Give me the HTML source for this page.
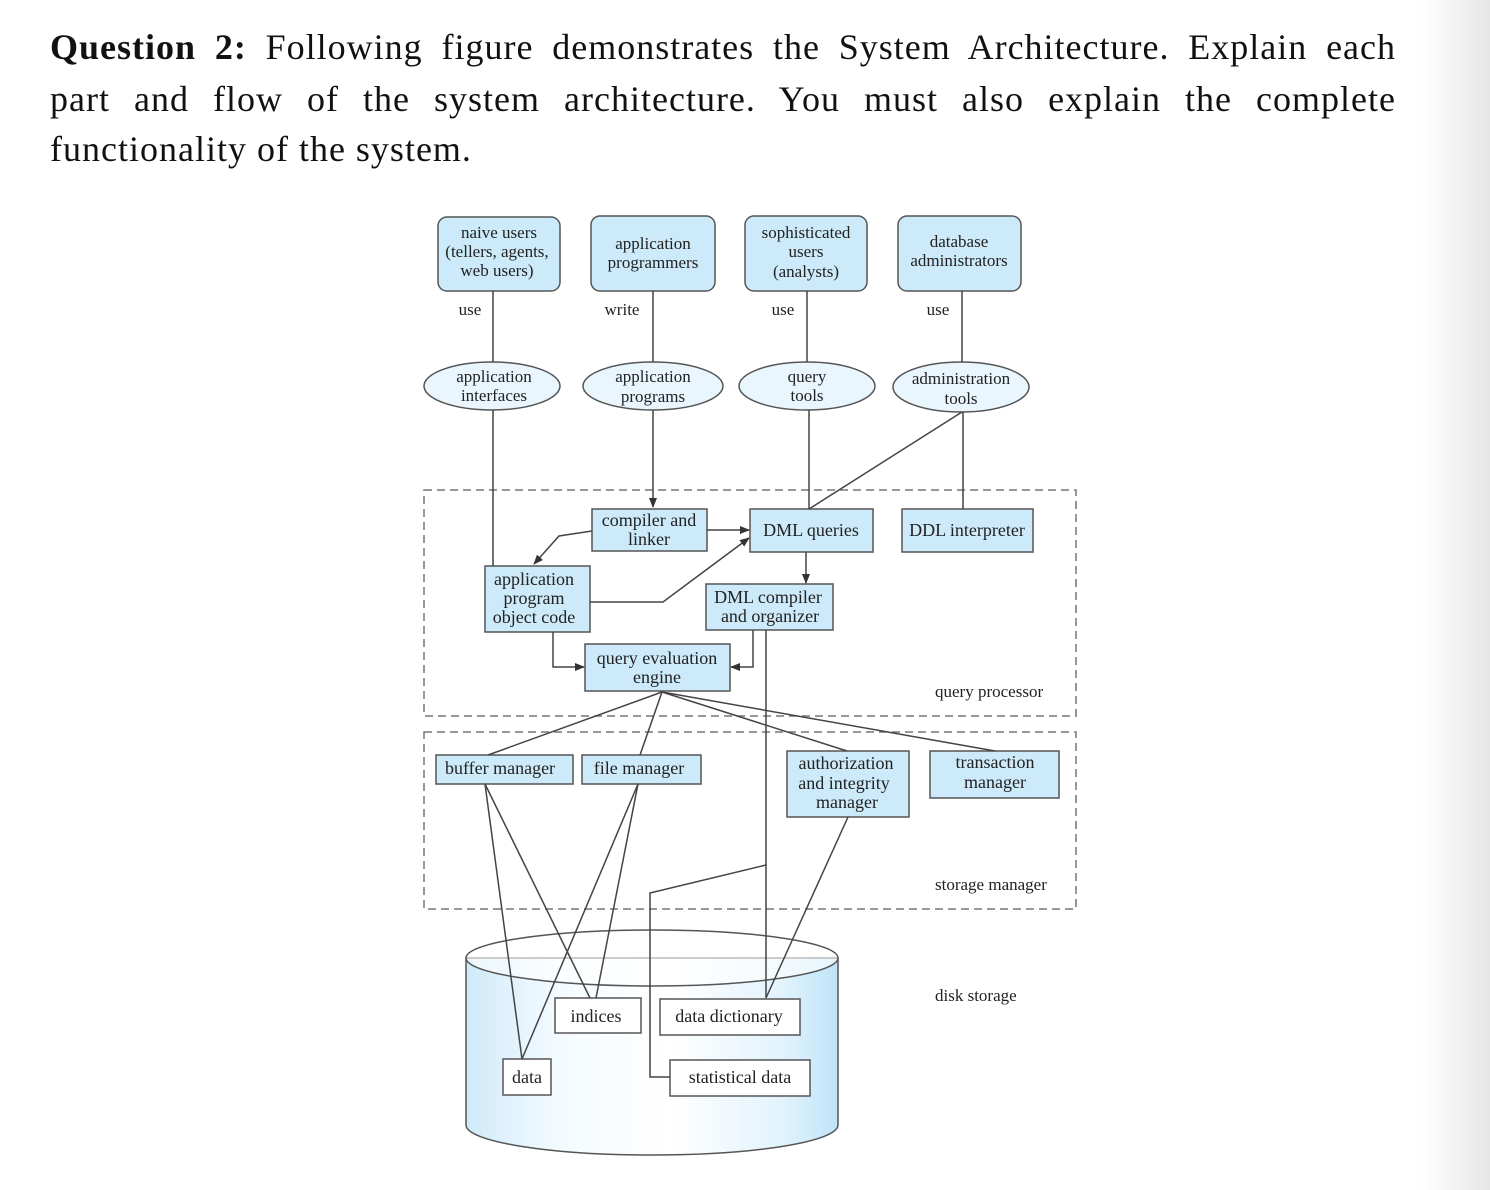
<!DOCTYPE html>
<html><head><meta charset="utf-8">
<style>
html,body{margin:0;padding:0;}
body{width:1490px;height:1190px;position:relative;overflow:hidden;background:linear-gradient(to right,#fff 0,#fff 1420px,#f3f3f3 1455px,#e6e6e6 1490px);font-family:"Liberation Serif",serif;}
.q{position:absolute;left:50px;width:1346px;font-size:36px;letter-spacing:1px;line-height:51px;color:#111;white-space:nowrap;}
.j{text-align:justify;text-align-last:justify;}
svg{position:absolute;left:0;top:0;}
svg text{font-family:"Liberation Serif",serif;fill:#222;}
</style></head><body>
<div class="q j" style="top:22px"><b>Question&nbsp;2:</b> Following figure demonstrates the System Architecture. Explain each</div>
<div class="q j" style="top:74px">part and flow of the system architecture. You must also explain the complete</div>
<div class="q" style="top:124px">functionality of the system.</div>
<svg width="1490" height="1190" viewBox="0 0 1490 1190">
<defs>
<marker id="a" markerWidth="10" markerHeight="8" refX="9" refY="4" orient="auto" markerUnits="userSpaceOnUse"><path d="M0,0 L10,4 L0,8 z" fill="#333"/></marker>
<linearGradient id="cyl" x1="0" x2="1" y1="0" y2="0">
<stop offset="0" stop-color="#cfeaf9"/><stop offset="0.25" stop-color="#f4fbff"/><stop offset="0.55" stop-color="#ffffff"/><stop offset="0.85" stop-color="#e2f3fc"/><stop offset="1" stop-color="#bfe4f8"/></linearGradient>
</defs>
<g stroke="#555" stroke-width="1.5" fill="none">
<rect x="424" y="490" width="652" height="226" stroke-dasharray="8,5" stroke="#777"/>
<rect x="424" y="732" width="652" height="177" stroke-dasharray="8,5" stroke="#777"/>
</g>
<path d="M466,958 L466,1125 A186,30 0 0 0 838,1125 L838,958 Z" fill="url(#cyl)" stroke="#555" stroke-width="1.5"/>
<ellipse cx="652" cy="958" rx="186" ry="28" fill="#fff" fill-opacity="0.6" stroke="#555" stroke-width="1.5"/>
<g fill="#cdeafa" stroke="#555" stroke-width="1.5">
<rect x="438" y="217" width="122" height="74" rx="9"/>
<rect x="591" y="216" width="124" height="75" rx="9"/>
<rect x="745" y="216" width="122" height="75" rx="9"/>
<rect x="898" y="216" width="123" height="75" rx="9"/>
</g>
<g fill="#e9f6fd" stroke="#555" stroke-width="1.5">
<ellipse cx="492" cy="386" rx="68" ry="24"/>
<ellipse cx="653" cy="386" rx="70" ry="24"/>
<ellipse cx="807" cy="386" rx="68" ry="24"/>
<ellipse cx="961" cy="387" rx="68" ry="25"/>
</g>
<g fill="#cdeafa" stroke="#555" stroke-width="1.5">
<rect x="592" y="509" width="115" height="42"/>
<rect x="750" y="509" width="123" height="43"/>
<rect x="902" y="509" width="131" height="43"/>
<rect x="485" y="566" width="105" height="66"/>
<rect x="706" y="584" width="127" height="46"/>
<rect x="585" y="644" width="145" height="47"/>
<rect x="436" y="755" width="137" height="29"/>
<rect x="582" y="755" width="119" height="29"/>
<rect x="787" y="751" width="122" height="66"/>
<rect x="930" y="751" width="129" height="47"/>
</g>
<g fill="#fff" stroke="#555" stroke-width="1.5">
<rect x="555" y="998" width="86" height="35"/>
<rect x="660" y="999" width="140" height="36"/>
<rect x="503" y="1059" width="48" height="36"/>
<rect x="670" y="1060" width="140" height="36"/>
</g>
<g stroke="#444" stroke-width="1.5" fill="none">
<line x1="493" y1="291" x2="493" y2="362"/>
<line x1="493" y1="410" x2="493" y2="566"/>
<line x1="653" y1="291" x2="653" y2="362"/>
<line x1="807" y1="291" x2="807" y2="362"/>
<line x1="962" y1="291" x2="962" y2="362"/>
<line x1="653" y1="410" x2="653" y2="507" marker-end="url(#a)"/>
<line x1="809" y1="410" x2="809" y2="509"/>
<line x1="962" y1="412" x2="809" y2="509"/>
<line x1="963" y1="412" x2="963" y2="509"/>
<line x1="707" y1="530" x2="749" y2="530" marker-end="url(#a)"/>
<polyline points="592,531 559,536 534,564" marker-end="url(#a)"/>
<polyline points="590,602 663,602 749,538" marker-end="url(#a)"/>
<line x1="806" y1="552" x2="806" y2="583" marker-end="url(#a)"/>
<polyline points="553,632 553,667 584,667" marker-end="url(#a)"/>
<polyline points="753,630 753,667 731,667" marker-end="url(#a)"/>
<line x1="766" y1="630" x2="766" y2="998"/>
<line x1="662" y1="692" x2="488" y2="755"/>
<line x1="662" y1="692" x2="640" y2="755"/>
<line x1="662" y1="692" x2="847" y2="751"/>
<line x1="662" y1="692" x2="995" y2="751"/>
<line x1="485" y1="784" x2="522" y2="1059"/>
<line x1="485" y1="784" x2="590" y2="998"/>
<line x1="638" y1="784" x2="522" y2="1059"/>
<line x1="638" y1="784" x2="596" y2="998"/>
<line x1="848" y1="817" x2="766" y2="998"/>
<polyline points="766,865 650,893 650,1077 670,1077"/>
</g>
<g font-size="17" text-anchor="middle">
<text x="499" y="238">naive users</text>
<text x="497" y="257">(tellers, agents,</text>
<text x="497" y="276">web users)</text>
<text x="653" y="249">application</text>
<text x="653" y="268">programmers</text>
<text x="806" y="238">sophisticated</text>
<text x="806" y="257">users</text>
<text x="806" y="277">(analysts)</text>
<text x="959" y="247">database</text>
<text x="959" y="266">administrators</text>
<text x="470" y="315">use</text>
<text x="622" y="315">write</text>
<text x="783" y="315">use</text>
<text x="938" y="315">use</text>
<text x="494" y="382">application</text>
<text x="494" y="401">interfaces</text>
<text x="653" y="382">application</text>
<text x="653" y="402">programs</text>
<text x="807" y="382">query</text>
<text x="807" y="401">tools</text>
<text x="961" y="384">administration</text>
<text x="961" y="404">tools</text>
</g>
<g font-size="18" text-anchor="middle">
<text x="649" y="526">compiler and</text>
<text x="649" y="545">linker</text>
<text x="811" y="536">DML queries</text>
<text x="967" y="536">DDL interpreter</text>
<text x="534" y="585">application</text>
<text x="534" y="604">program</text>
<text x="534" y="623">object code</text>
<text x="768" y="603">DML compiler</text>
<text x="770" y="622">and organizer</text>
<text x="657" y="664">query evaluation</text>
<text x="657" y="683">engine</text>
<text x="500" y="774">buffer manager</text>
<text x="639" y="774">file manager</text>
<text x="846" y="769">authorization</text>
<text x="844" y="789">and integrity</text>
<text x="847" y="808">manager</text>
<text x="995" y="768">transaction</text>
<text x="995" y="788">manager</text>
<text x="596" y="1022">indices</text>
<text x="729" y="1022">data dictionary</text>
<text x="527" y="1083">data</text>
<text x="740" y="1083">statistical data</text>
</g>
<g font-size="17">
<text x="935" y="697">query processor</text>
<text x="935" y="890">storage manager</text>
<text x="935" y="1001">disk storage</text>
</g>
</svg>
</body></html>
